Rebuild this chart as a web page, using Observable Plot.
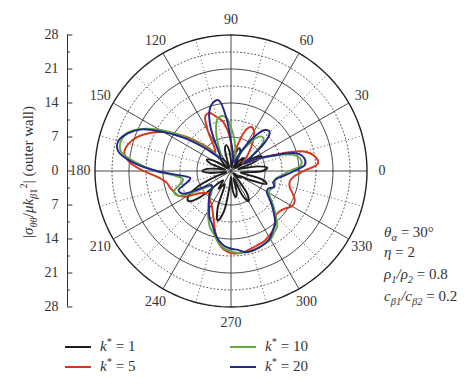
<!DOCTYPE html>
<html><head><meta charset="utf-8">
<script src="https://cdn.jsdelivr.net/npm/d3@7"></script>
<script src="https://cdn.jsdelivr.net/npm/@observablehq/plot@0.6"></script>
<style>
body{margin:0;background:#fff;font-family:"Liberation Serif","Times New Roman",Times,"DejaVu Serif",serif;}
#wrap{position:relative;width:474px;height:391px;overflow:hidden;}
.abs{position:absolute;white-space:nowrap;color:#333;line-height:1;font-family:"Liberation Serif","Times New Roman",Times,"DejaVu Serif",serif;}
.ann{font-size:15px;font-style:italic;left:384px;}
.ann .n{font-style:normal;}
.leg{font-size:15px;}
.leg .sw{position:absolute;width:26px;height:0;border-top:2.5px solid;}
sub,sup{font-size:70%;line-height:0;}
</style></head><body>
<div id="wrap"><div id="chart"></div></div>
<script>
// angles (degrees) at which the radial values were read
const theta = [0,5,10,15,20,25,30,35,40,45,50,55,60,65,70,75,80,85,90,95,100,105,110,115,120,125,130,135,140,145,150,155,160,165,170,175,180,185,190,195,200,205,210,215,220,225,230,235,240,245,250,255,260,265,270,275,280,285,290,295,300,305,310,315,320,325,330,335,340,345,350,355];
const k1 = [6.5,7.5,5.5,1.5,4.5,7,5.5,1,2.5,3.8,3,0.8,2.5,4.5,5,4,1.2,0.8,2,4.2,5.4,4.8,1.8,0.8,2,3.2,3.5,2,0.8,2.5,4.5,5.5,4.5,1.2,2.5,5,5.9,4.5,1.2,1,3.5,7.5,10,10.8,8.5,3.2,2.5,4.5,3.5,3,8,10.6,8.5,3,1.2,4,5.5,4.5,1.5,5.5,7.2,6,2,0.8,1.5,2.5,2,4.5,7.8,6.5,2,3];
const k5 = [15,18,17.5,15.5,10,5,3,3,4,5,6.5,8,9.5,10,9,6,4,4,6,8.5,10.5,11.5,12.7,12.5,9.5,6,5,7,10,13,16,18.5,20.5,21.8,22.3,21,18,15,13.5,13,12.5,12,10.5,8,7,6.5,7,7.5,8,9,10.5,12.7,15,16.3,16.9,17,16.8,16.5,16.2,16,15.5,15,14,13,13,13.5,14.5,14.5,13.5,12.5,12.3,13];
const k10 = [12,14.5,14.5,13,9,5.5,3,4.5,8,9.5,9.3,7.5,5,3,2.5,3.5,5,7,9,11,11.5,11,9,6.5,4.5,3.5,4,6,9,13,17,20.5,22.8,23.5,23,19.5,15.5,11.5,10,11,12.5,12,8.5,5.5,5,5.5,6.5,8,9.5,11,12.5,13.5,15,16,16.5,17,17,17,16.8,16.5,16.3,15.5,14.8,13,11.5,10,9,9,9.5,9.3,9.3,10.5];
const k20 = [13,15.3,15.3,14,9.5,6,3,5,9,11.3,11,9,6,3.5,2,2,2.5,4,6,11,14.8,14.5,13,10,6,4,3.5,5,8,12,16,20.3,22.6,24,23.6,20.3,15.3,10.5,8.5,9.5,11.5,11,7,5,5,6,7,8,9,10.5,11.5,13,14.5,15.5,16,16.3,17,17,16.8,16.5,16,15,14.2,12.5,11,9.5,8.5,8.5,9.5,9,9.5,11];
const seriesNames = ["k* = 1","k* = 5","k* = 10","k* = 20"];
const seriesColors = ["#1e1e1e","#d8361c","#62a843","#23268a"];
const rings = [3.5,7,10.5,14,17.5,21,24.5,28];
const spokeAngles = [0,15,30,45,60,75,90,105,120,135,150,165,180,195,210,225,240,255,270,285,300,315,330,345];
const angleLabels = [0,30,60,90,120,150,180,210,240,270,300,330];
const yTicks = [-28,-21,-14,-7,0,7,14,21,28];
const yMinor = [-24.5,-17.5,-10.5,-3.5,3.5,10.5,17.5,24.5];

const rad = d => d * Math.PI / 180;
const rMax = 28;
const xMin = -28 - 27.5 / (272 / 56);
const serif = "'Liberation Serif','Times New Roman',Times,'DejaVu Serif',serif";

const allSeries = [k1, k5, k10, k20];
const curvePts = allSeries.flatMap((arr, si) => theta.map((t, i) => ({s: seriesNames[si], x: arr[i] * Math.cos(rad(t)), y: arr[i] * Math.sin(rad(t))})));

const circ = d3.range(0, 361, 2);
const ringPts = rings.flatMap(r => circ.map(a => ({r, solid: r % 7 === 0, x: r * Math.cos(rad(a)), y: r * Math.sin(rad(a))})));
const spokes = spokeAngles.map(a => ({a, solid: a % 30 === 0}));

const plot = Plot.plot({
  width: 474, height: 330,
  marginLeft: 67, marginRight: 107.5, marginTop: 34.5, marginBottom: 23.5,
  x: {domain: [xMin, 28], axis: null},
  y: {domain: [-28, 28], axis: null},
  style: {fontFamily: serif, fontSize: "14px", color: "#333", background: "transparent"},
  marks: [
    Plot.line(ringPts.filter(d => !d.solid), {x: "x", y: "y", z: "r", stroke: "#555", strokeWidth: 1, strokeDasharray: "1,2.6"}),
    Plot.link(spokes.filter(d => !d.solid), {x1: d => 3.5 * Math.cos(rad(d.a)), y1: d => 3.5 * Math.sin(rad(d.a)), x2: d => rMax * Math.cos(rad(d.a)), y2: d => rMax * Math.sin(rad(d.a)), stroke: "#555", strokeWidth: 1, strokeDasharray: "1,2.6"}),
    Plot.line(ringPts.filter(d => d.solid && d.r < 28), {x: "x", y: "y", z: "r", stroke: "#333", strokeWidth: 0.9}),
    Plot.link(spokes.filter(d => d.solid), {x1: 0, y1: 0, x2: d => rMax * Math.cos(rad(d.a)), y2: d => rMax * Math.sin(rad(d.a)), stroke: "#333", strokeWidth: 0.9}),
    Plot.line(ringPts.filter(d => d.r === 28), {x: "x", y: "y", stroke: "#222", strokeWidth: 1.4}),
    Plot.text(angleLabels, {x: d => 31.1 * Math.cos(rad(d)), y: d => 31.1 * Math.sin(rad(d)), text: d => String(d), fill: "#333", fontSize: 14, fontFamily: serif}),
    // left axis
    Plot.ruleX([xMin], {y1: -28, y2: 28, stroke: "#333", strokeWidth: 1}),
    Plot.ruleY(yTicks, {x1: xMin, x2: xMin + 1.1, stroke: "#333", strokeWidth: 1}),
    Plot.ruleY(yMinor, {x1: xMin, x2: xMin + 0.6, stroke: "#333", strokeWidth: 1}),
    Plot.axisY({anchor: "left", ticks: yTicks, tickSize: 0, tickPadding: 9, label: null, tickFormat: d => String(Math.abs(d)), fontSize: 14, fill: "#333", fontFamily: serif}),
    // curves
    ...seriesNames.map((n, i) => Plot.line(curvePts.filter(d => d.s === n), {x: "x", y: "y", stroke: seriesColors[i], strokeWidth: 1.9, curve: "catmull-rom-closed"}))
  ]
});
document.getElementById("chart").appendChild(plot);

const wrap = document.getElementById("wrap");
function add(html, cls, style) { const d = document.createElement("div"); d.className = "abs " + cls; d.innerHTML = html; Object.assign(d.style, style); wrap.appendChild(d); return d; }
// y title
add('|<i>σ</i><sub><i>θθ</i></sub>/<i>μk</i><sub><i>β</i>1</sub><sup>2</sup>| (outer wall)', "", {fontSize: "15px", left: "28px", top: "172px", transform: "translate(-50%,-50%) rotate(-90deg)"});
// annotation
const annLines = ['<i>θ</i><sub><i>α</i></sub> <span class="n">= 30°</span>', '<i>η</i> <span class="n">= 2</span>', '<i>ρ</i><sub>1</sub>/<i>ρ</i><sub>2</sub> <span class="n">= 0.8</span>', '<i>c</i><sub><i>β</i>1</sub>/<i>c</i><sub><i>β</i>2</sub> <span class="n">= 0.2</span>'];
const annY = [233, 253, 275, 297];
annLines.forEach((h, i) => add(h, "ann", {top: (annY[i] - 8) + "px"}));
// legend
const legX = [65, 230], legY = [347, 367];
seriesNames.forEach((n, i) => {
  const col = Math.floor(i / 2), row = i % 2;
  const sw = add("", "leg", {left: legX[col] + "px", top: (legY[row] - 1) + "px"});
  sw.innerHTML = '<div class="sw" style="border-color:' + seriesColors[i] + ';width:26px"></div>';
  add('<i>k</i><sup>*</sup> = ' + n.split("= ")[1], "leg", {left: (legX[col] + 35) + "px", top: (legY[row] - 8) + "px"});
});
</script>
</body></html>
